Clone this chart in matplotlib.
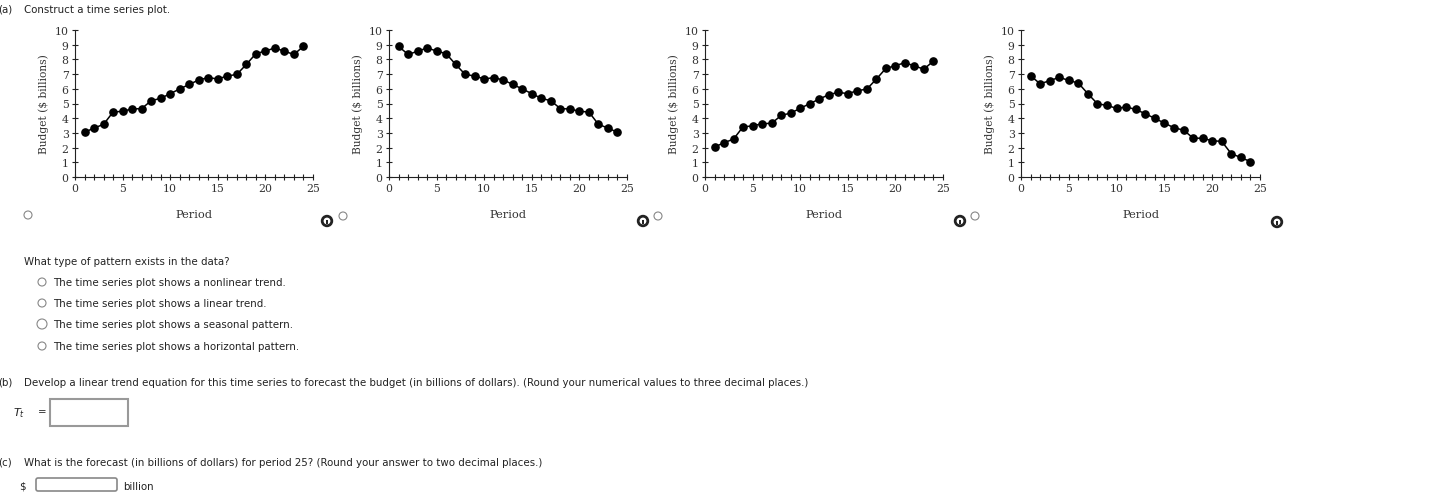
import matplotlib
matplotlib.use("Agg")
import matplotlib.pyplot as plt
from matplotlib.patches import Circle, Rectangle, FancyBboxPatch

# ---- data ----
periods = list(range(1, 25))
budget_a = [3.04, 3.33, 3.58, 4.42, 4.47, 4.63, 4.65, 5.19, 5.35, 5.67, 5.99, 6.30,
            6.60, 6.76, 6.67, 6.87, 6.98, 7.66, 8.39, 8.57, 8.78, 8.55, 8.34, 8.89]
budget_b = [8.89, 8.34, 8.55, 8.78, 8.57, 8.39, 7.66, 6.98, 6.87, 6.67, 6.76, 6.60,
            6.30, 5.99, 5.67, 5.35, 5.19, 4.65, 4.63, 4.47, 4.42, 3.58, 3.33, 3.04]
budget_c = [2.04, 2.33, 2.58, 3.42, 3.47, 3.63, 3.65, 4.19, 4.35, 4.67, 4.99, 5.30,
            5.60, 5.76, 5.67, 5.87, 5.98, 6.66, 7.39, 7.57, 7.78, 7.55, 7.34, 7.89]
budget_d = [6.89, 6.34, 6.55, 6.78, 6.57, 6.39, 5.66, 4.98, 4.87, 4.67, 4.76, 4.60,
            4.30, 3.99, 3.67, 3.35, 3.19, 2.65, 2.63, 2.47, 2.42, 1.58, 1.33, 1.04]
series = [budget_a, budget_b, budget_c, budget_d]
xticks_major = [0, 5, 10, 15, 20, 25]
yticks = list(range(0, 11))
xlabel = "Period"
ylabel = "Budget ($ billions)"

title_a = "Construct a time series plot."
question = "What type of pattern exists in the data?"
options = ["The time series plot shows a nonlinear trend.",
           "The time series plot shows a linear trend.",
           "The time series plot shows a seasonal pattern.",
           "The time series plot shows a horizontal pattern."]
text_b = ("Develop a linear trend equation for this time series to forecast the budget "
          "(in billions of dollars). (Round your numerical values to three decimal places.)")
text_c = "What is the forecast (in billions of dollars) for period 25? (Round your answer to two decimal places.)"

W, H = 1443, 502
fig = plt.figure(figsize=(W / 100, H / 100), dpi=100)

# overlay in pixel coordinates
ov = fig.add_axes([0, 0, 1, 1], zorder=0)
ov.set_xlim(0, W)
ov.set_ylim(H, 0)
ov.axis("off")
ov.patch.set_alpha(0)

axes_px = [(75, 313), (389, 627), (705, 943), (1021, 1260)]
y_top, y_bot = 31, 178

serif = "DejaVu Serif"
for (x0, x1), vals in zip(axes_px, series):
    ax = fig.add_axes([x0 / W, 1 - y_bot / H, (x1 - x0) / W, (y_bot - y_top) / H], zorder=2)
    ax.patch.set_alpha(0)
    ax.plot(periods, vals, color="black", lw=1.1, marker="o", ms=5.2, clip_on=False)
    ax.set_xlim(0, 25)
    ax.set_ylim(0, 10)
    for s in ["top", "right"]:
        ax.spines[s].set_visible(False)
    for s in ["left", "bottom"]:
        ax.spines[s].set_linewidth(0.8)
        ax.spines[s].set_color("#222222")
    ax.set_xticks(range(0, 26), minor=False)
    ax.set_xticklabels([str(t) if t in xticks_major else "" for t in range(0, 26)],
                       fontfamily=serif, fontsize=7.8, color="#333333")
    ax.set_yticks(yticks)
    ax.set_yticklabels([str(t) for t in yticks], fontfamily=serif, fontsize=7.8, color="#333333")
    ax.tick_params(axis="both", direction="inout", length=5, width=0.8, color="#222222", pad=2)
    ax.set_ylabel(ylabel, fontfamily=serif, fontsize=7.7, color="#333333", labelpad=4)
    ax.set_xlabel(xlabel, fontfamily=serif, fontsize=8.2, color="#333333", labelpad=11)

sans = "DejaVu Sans"
tc = "#222222"

def txt(x, y, s, size=7.4, **kw):
    ov.text(x, y, s, fontsize=size, fontfamily=sans, color=tc, va="center", ha="left", **kw)

def radio(x, y, r=4.0):
    ov.add_patch(Circle((x, y), r, facecolor="white", edgecolor="#888888", lw=0.8, zorder=3))

def info(x, y):
    ov.add_patch(Circle((x, y), 4.8, facecolor="white", edgecolor="#222222", lw=2.0, zorder=3))
    ov.add_patch(Rectangle((x - 0.9, y - 0.6), 1.8, 3.4, facecolor="#222222", lw=0, zorder=4))

txt(-2, 10, "(a)")
txt(24, 10, title_a)

for (cx, cy) in [(28, 216), (343, 217), (658, 217), (975, 217)]:
    radio(cx, cy)
for (cx, cy) in [(327, 222), (643, 222), (960, 222), (1277, 223)]:
    info(cx, cy)

txt(24, 262, question)
for yy, opt, rr in zip([283, 304, 325, 347], options, [4.0, 4.0, 5.0, 4.0]):
    radio(42, yy, rr)
    txt(53, yy, opt)

bsize = 8.2
txt(-2, 383, "(b)", size=bsize, fontstretch="condensed")
txt(24, 383, text_b, size=bsize, fontstretch="condensed")
ov.text(13, 413, r"$T_t$", fontsize=8, color=tc, va="center", ha="left")
txt(38, 412, "=", size=7.4)
ov.add_patch(Rectangle((50, 400), 78, 27, facecolor="white", edgecolor="#999999", lw=1.5))

txt(-2, 463, "(c)", size=bsize, fontstretch="condensed")
txt(24, 463, text_c, size=bsize, fontstretch="condensed")
txt(19, 487, "$", size=7.4)
ov.add_patch(FancyBboxPatch((36, 479), 81, 13, boxstyle="round,pad=0,rounding_size=2",
                            facecolor="white", edgecolor="#888888", lw=1.2))
txt(123, 487, "billion", size=bsize, fontstretch="condensed")

fig.savefig("out.png", dpi=100)
